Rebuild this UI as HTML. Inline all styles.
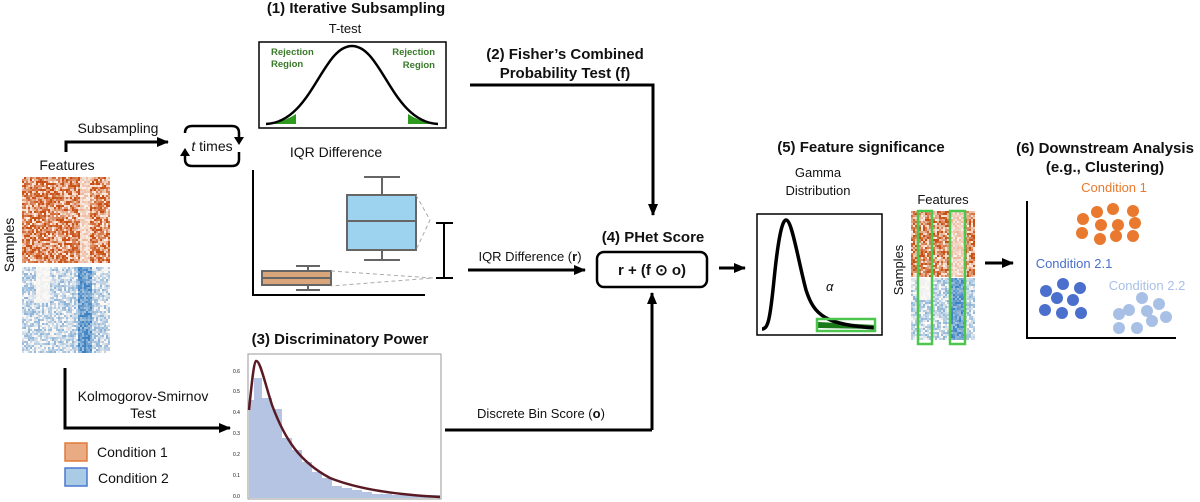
<!DOCTYPE html>
<html><head><meta charset="utf-8"><style>
html,body{margin:0;padding:0;background:#fff;width:1200px;height:502px;overflow:hidden}
svg{display:block}
text{font-family:"Liberation Sans",sans-serif;fill:#111}
.b{font-weight:bold}
</style></head><body>
<svg id="s" width="1200" height="502" viewBox="0 0 1200 502" xmlns="http://www.w3.org/2000/svg">
<defs>
<marker id="ah2" markerWidth="12" markerHeight="10" refX="11" refY="5" orient="auto" markerUnits="userSpaceOnUse"><path d="M0,0 L12,5 L0,10 z" fill="#000"/></marker>
</defs>
<g id="heat"></g>
<text x="67" y="170" font-size="14" text-anchor="middle">Features</text>
<text transform="translate(14,245) rotate(-90)" font-size="14" text-anchor="middle">Samples</text>
<path d="M66,152 V142 H168" stroke="#000" stroke-width="3" fill="none" marker-end="url(#ah2)"/>
<text x="118" y="133" font-size="14" text-anchor="middle">Subsampling</text>
<path d="M185,133 Q185,126 192,126 H232 Q239,126 239,133 V140" stroke="#000" stroke-width="2.5" fill="none"/>
<path d="M234,137 L244,137 L239,145 z"/>
<path d="M239,152 V159 Q239,166 232,166 H192 Q185,166 185,159 V153" stroke="#000" stroke-width="2.5" fill="none"/>
<path d="M180,156 L190,156 L185,148 z"/>
<text x="212" y="151" font-size="14" text-anchor="middle"><tspan font-style="italic">t</tspan> times</text>
<text x="356" y="13" font-size="15" class="b" text-anchor="middle">(1) Iterative Subsampling</text>
<text x="345" y="33" font-size="13" text-anchor="middle">T-test</text>
<rect x="259" y="42" width="187" height="86" fill="#fff" stroke="#000" stroke-width="1.5"/>
<path d="M266,124 Q284,122 296,114 L296,124 z" fill="#2e9a1e"/>
<path d="M408,114 Q420,122 438,124 L408,124 z" fill="#2e9a1e"/>
<path d="M266,124 C312,122 322,46 352,46 C382,46 392,122 438,124" stroke="#000" stroke-width="2.5" fill="none"/>
<text x="271" y="55" font-size="9.5" class="b" style="fill:#3a7a2a">Rejection</text>
<text x="271" y="67" font-size="9.5" class="b" style="fill:#3a7a2a">Region</text>
<text x="435" y="55" font-size="9.5" class="b" text-anchor="end" style="fill:#3a7a2a">Rejection</text>
<text x="435" y="68" font-size="9.5" class="b" text-anchor="end" style="fill:#3a7a2a">Region</text>
<text x="336" y="157" font-size="14" text-anchor="middle">IQR Difference</text>
<path d="M253,170 V295 H425" stroke="#000" stroke-width="2" fill="none"/>
<g stroke="#666" stroke-width="2" fill="none">
<path d="M364,177 H400 M382,177 V195 M382,250 V260 M364,260 H400"/>
<rect x="347" y="195" width="69" height="55" fill="#9dd3ee"/>
<path d="M347,221 H416"/>
<path d="M296,266 H320 M296,290 H320 M308,266 V270 M308,286 V290"/>
<rect x="262" y="271" width="69" height="14" fill="#d9a57a"/>
<path d="M262,278 H331"/>
</g>
<path d="M416,195 L430,220 L416,250 M331,271 L433,278 L331,286" stroke="#aaa" stroke-width="1" stroke-dasharray="4,3" fill="none"/>
<path d="M436,223 H453 M444,223 V278 M436,278 H453" stroke="#000" stroke-width="2" fill="none"/>
<text x="530" y="261" font-size="13" text-anchor="middle">IQR Difference (<tspan class="b">r</tspan>)</text>
<path d="M468,270 H585" stroke="#000" stroke-width="3" marker-end="url(#ah2)"/>
<text x="565" y="59" font-size="15" class="b" text-anchor="middle">(2) Fisher’s Combined</text>
<text x="565" y="78" font-size="15" class="b" text-anchor="middle">Probability Test (f)</text>
<path d="M470,85 H653 V215" stroke="#000" stroke-width="3" fill="none" marker-end="url(#ah2)"/>
<text x="653" y="242" font-size="15" class="b" text-anchor="middle">(4) PHet Score</text>
<rect x="597" y="252" width="110" height="35" rx="7" fill="#fff" stroke="#000" stroke-width="2.5"/>
<text x="652" y="275" font-size="15" class="b" text-anchor="middle">r + (f ⊙ o)</text>
<path d="M652,430 V293" stroke="#000" stroke-width="3" fill="none" marker-end="url(#ah2)"/>
<path d="M445,430 H652" stroke="#000" stroke-width="3" fill="none"/>
<text x="541" y="418" font-size="13" text-anchor="middle">Discrete Bin Score (<tspan class="b">o</tspan>)</text>
<path d="M719,268 H745" stroke="#000" stroke-width="3" marker-end="url(#ah2)"/>
<text x="340" y="344" font-size="15" class="b" text-anchor="middle">(3) Discriminatory Power</text>
<rect x="248" y="354" width="193" height="145" fill="#fff" stroke="#999" stroke-width="1"/>
<g fill="#b4c4e2">
<rect x="249" y="400" width="5" height="98"/><rect x="254" y="378" width="8" height="120"/><rect x="262" y="398" width="10" height="100"/>
<rect x="272" y="409" width="10" height="89"/><rect x="282" y="438" width="10" height="60"/><rect x="292" y="450" width="10" height="48"/>
<rect x="302" y="462" width="10" height="36"/><rect x="312" y="472" width="10" height="26"/><rect x="322" y="478" width="10" height="20"/>
<rect x="332" y="486" width="10" height="12"/><rect x="342" y="488" width="10" height="10"/><rect x="352" y="490" width="10" height="8"/>
<rect x="362" y="492" width="10" height="6"/><rect x="372" y="494" width="20" height="4"/><rect x="392" y="495" width="48" height="3"/>
</g>
<path d="M249,410 C252,380 254,362 256,361 C260,360 264,380 272,405 C285,440 300,462 330,478 C360,490 400,495 440,497" stroke="#5a1a24" stroke-width="2.5" fill="none"/>
<g font-size="5" style="fill:#777">
<text x="233" y="373">0.6</text><text x="233" y="393">0.5</text><text x="233" y="414">0.4</text><text x="233" y="435">0.3</text><text x="233" y="456">0.2</text><text x="233" y="477">0.1</text><text x="233" y="498">0.0</text>
</g>
<path d="M65,368 V428 H230" stroke="#000" stroke-width="3" fill="none" marker-end="url(#ah2)"/>
<text x="143" y="401" font-size="14" text-anchor="middle">Kolmogorov-Smirnov</text>
<text x="143" y="418" font-size="14" text-anchor="middle">Test</text>
<rect x="65" y="443" width="22" height="18" fill="#e8ab82" stroke="#e07a3a" stroke-width="1.5"/>
<rect x="65" y="468" width="22" height="18" fill="#a9cbe6" stroke="#4a78d0" stroke-width="1.5"/>
<text x="97" y="457" font-size="14">Condition 1</text>
<text x="98" y="483" font-size="14">Condition 2</text>
<text x="861" y="152" font-size="15" class="b" text-anchor="middle">(5) Feature significance</text>
<text x="818" y="177" font-size="13" text-anchor="middle">Gamma</text>
<text x="818" y="195" font-size="13" text-anchor="middle">Distribution</text>
<rect x="757" y="214" width="125" height="121" fill="#fff" stroke="#000" stroke-width="1.5"/>
<path d="M818,322 L818,328 L875,329 L875,325 Q840,323 818,322 z" fill="#1a7a1a"/>
<path d="M762,329 C768,329 770,320 774,280 C778,240 782,220 786,220 C792,220 798,260 806,290 C814,315 825,325 876,328" stroke="#000" stroke-width="3.5" fill="none"/>
<rect x="817" y="319" width="58" height="12" fill="none" stroke="#4cc64c" stroke-width="2.5"/>
<text x="826" y="291" font-size="13" font-style="italic">α</text>
<text x="943" y="204" font-size="13" text-anchor="middle">Features</text>
<text transform="translate(903,270) rotate(-90)" font-size="13" text-anchor="middle">Samples</text>
<g id="heat2"></g>
<rect x="918" y="211" width="14" height="133" fill="none" stroke="#4cc64c" stroke-width="2.5"/>
<rect x="950" y="211" width="15" height="133" fill="none" stroke="#4cc64c" stroke-width="2.5"/>
<path d="M985,263 H1013" stroke="#000" stroke-width="3" marker-end="url(#ah2)"/>
<text x="1105" y="153" font-size="15" class="b" text-anchor="middle">(6) Downstream Analysis</text>
<text x="1105" y="172" font-size="15" class="b" text-anchor="middle">(e.g., Clustering)</text>
<path d="M1027,201 V338 H1176" stroke="#000" stroke-width="2" fill="none"/>
<text x="1114" y="192" font-size="13" text-anchor="middle" style="fill:#e8792e">Condition 1</text>
<text x="1074" y="268" font-size="13" text-anchor="middle" style="fill:#4a6fcc">Condition 2.1</text>
<text x="1147" y="290" font-size="13" text-anchor="middle" style="fill:#a9c0e6">Condition 2.2</text>
<g fill="#e8792e"><circle cx="1097" cy="212" r="6"/><circle cx="1113" cy="209" r="6"/><circle cx="1133" cy="211" r="6"/><circle cx="1083" cy="219" r="6"/><circle cx="1101" cy="225" r="6"/><circle cx="1118" cy="225" r="6"/><circle cx="1135" cy="223" r="6"/><circle cx="1082" cy="233" r="6"/><circle cx="1100" cy="239" r="6"/><circle cx="1116" cy="236" r="6"/><circle cx="1133" cy="236" r="6"/></g>
<g fill="#4a6fcc"><circle cx="1063" cy="284" r="6"/><circle cx="1046" cy="291" r="6"/><circle cx="1080" cy="288" r="6"/><circle cx="1057" cy="298" r="6"/><circle cx="1073" cy="300" r="6"/><circle cx="1045" cy="310" r="6"/><circle cx="1062" cy="313" r="6"/><circle cx="1081" cy="313" r="6"/></g>
<g fill="#a9c0e6"><circle cx="1142" cy="298" r="6"/><circle cx="1159" cy="304" r="6"/><circle cx="1129" cy="310" r="6"/><circle cx="1147" cy="311" r="6"/><circle cx="1166" cy="317" r="6"/><circle cx="1119" cy="314" r="6"/><circle cx="1152" cy="321" r="6"/><circle cx="1119" cy="328" r="6"/><circle cx="1137" cy="328" r="6"/></g>
</svg>
<script>
(function(){
var seed=7;function r(){seed=(seed*16807)%2147483647;return seed/2147483647;}
function lerp(a,b,t){return [0,1,2].map(function(i){return Math.round(a[i]+(b[i]-a[i])*t);});}
function block(g,x0,y0,w,h,cell,col,lightFn){
  var html="";
  for(var y=0;y<h;y+=cell){for(var x=0;x<w;x+=cell){
    var t=r(); var m=lightFn(x0+x,y0+y); t=Math.max(0,Math.min(1,t*m[0]+m[1]));
    var c=lerp([255,250,245],col,t);
    html+='<rect x="'+(x0+x)+'" y="'+(y0+y)+'" width="'+cell+'" height="'+cell+'" fill="rgb('+c.join(",")+')"/>';
  }}
  g.insertAdjacentHTML("beforeend",html);
}
var g=document.getElementById("heat");
block(g,22,177,88,86,2,[200,80,20],function(x,y){return (x>=80&&x<90)?[0.35,0.05]:[1.1,0.05];});
block(g,22,267,88,86,2,[60,130,195],function(x,y){
  if(x>=77&&x<91) return [0.6,0.45];
  if(x>=35&&x<50&&y<302) return [0.1,0];
  return [0.65,-0.05];});
var g2=document.getElementById("heat2");
block(g2,911,211,64,65,2,[200,80,20],function(x,y){return (x>=950&&x<965)?[0.35,0.05]:[1.1,0.05];});
block(g2,911,278,64,62,2,[60,130,195],function(x,y){
  if(x>=950&&x<965) return [0.6,0.45];
  if(x>=918&&x<932&&y<300) return [0.1,0];
  return [0.65,-0.05];});
})();
</script>
</body></html>
